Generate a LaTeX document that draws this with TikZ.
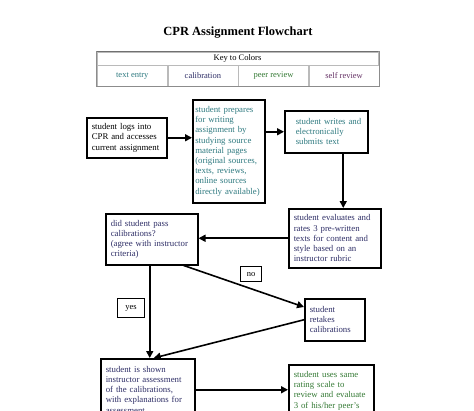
\documentclass[tikz,border=0pt]{standalone}
\usepackage{fontspec}
\setmainfont{Liberation Serif}
\usetikzlibrary{arrows.meta,calc,positioning}
\definecolor{EntryTeal}{HTML}{2F7A80}
\definecolor{CalibNavy}{HTML}{2E2E66}
\definecolor{PeerGreen}{HTML}{357A35}
\definecolor{SelfPurple}{HTML}{663366}
\definecolor{KeyGray}{HTML}{8C8C8C}

\begin{document}
\begin{tikzpicture}[x=1pt,y=-1pt,
    stepbox/.style={draw,line width=1.5pt,align=left,anchor=north west,
      inner xsep=5pt,inner ysep=3pt,
      font=\fontsize{8.8}{10.2}\selectfont},
    answer/.style={draw,line width=1.1pt,anchor=north west,inner sep=0pt,
      font=\fontsize{8.5}{10}\selectfont},
    keycell/.style={draw=KeyGray!60,line width=0.6pt,minimum height=21pt,
      minimum width=70pt,inner sep=0pt,font=\fontsize{8.5}{10}\selectfont},
    flow/.style={-{Triangle[length=7pt,width=7pt]},line width=1.6pt}
  ]
    \useasboundingbox (0,0) rectangle (474,410);
    \clip (0,0) rectangle (474,410);

    \node[font=\bfseries\fontsize{12.5}{15}\selectfont] (title) at (238,33)
      {CPR Assignment Flowchart};

    % key to colors
    \node[keycell,minimum width=281pt,minimum height=13pt] (keyhead) at (237.5,58.5)
      {Key to Colors};
    \node[keycell,anchor=north west,text=EntryTeal] (keytext) at (97,65) {text entry};
    \node[keycell,right=0pt of keytext,text=CalibNavy] (keycalib) {calibration};
    \node[keycell,right=0pt of keycalib,text=PeerGreen] (keypeer) {peer review};
    \node[keycell,right=0pt of keypeer,text=SelfPurple] (keyself) {self review};
    \draw[KeyGray,line width=0.9pt] (keyhead.north west) rectangle (keyself.south east);
    \draw[KeyGray!80!black,line width=1.4pt] (keyhead.north west) -- (keyhead.north east);

    % flowchart boxes
    \node[stepbox,text width=70pt,minimum height=40pt] (login) at (86,117)
      {student logs into\\CPR and accesses\\current assignment};
    \node[stepbox,text width=67pt,inner xsep=2.5pt,minimum height=103pt,text=EntryTeal] (prepare) at (192,99)
      {student prepares\\for writing\\assignment by\\studying source\\material pages\\(original sources,\\texts, reviews,\\online sources\\directly available)};
    \node[stepbox,text width=73pt,minimum height=42pt,text=EntryTeal,inner xsep=5pt] (submit) at (284,110)
      {\hspace*{6pt}student writes and\\\hspace*{6pt}electronically\\\hspace*{6pt}submits text};
    \node[stepbox,text width=82pt,minimum height=59pt,text=CalibNavy] (evaluate) at (288,208)
      {student evaluates and\\rates 3 pre-written\\texts for content and\\style based on an\\instructor rubric};
    \node[stepbox,text width=82pt,minimum height=51pt,text=CalibNavy] (pass) at (105,213)
      {did student pass\\calibrations?\\(agree with instructor\\criteria)};
    \node[stepbox,text width=50pt,minimum height=42pt,text=CalibNavy] (retake) at (304,298)
      {student\\retakes\\calibrations};
    \node[stepbox,text width=84pt,minimum height=62pt,text=CalibNavy] (shown) at (100,358)
      {student is shown\\instructor assessment\\of the calibrations,\\with explanations for\\assessment};
    \node[stepbox,text width=75pt,minimum height=52pt,text=PeerGreen] (peer) at (288,364)
      {student uses same\\rating scale to\\review and evaluate\\3 of his/her peer's};

    \node[answer,minimum width=21pt,minimum height=15pt] (no) at (240,266) {no};
    \node[answer,minimum width=27pt,minimum height=19pt] (yes) at (117,298) {yes};

    % connectors
    \draw[flow] (login.east) -- (login.east -| prepare.west);
    \draw[flow] (prepare.east |- submit.west) -- (submit.west);
    \draw[flow] ([xshift=17pt]submit.south) -- ([xshift=17pt]submit.south |- evaluate.north);
    \draw[flow] (evaluate.west) -- (evaluate.west -| pass.east);
    \draw[flow] ([xshift=32pt]pass.south) -- ([yshift=-9pt]retake.north west);
    \draw[flow] ([xshift=-2pt]pass.south) -- ([xshift=-2pt]pass.south |- shown.north);
    \draw[flow] (retake.west) -- ([xshift=6pt]shown.north);
    \draw[flow] (shown.east) -- (shown.east -| peer.west);
\end{tikzpicture}
\end{document}
